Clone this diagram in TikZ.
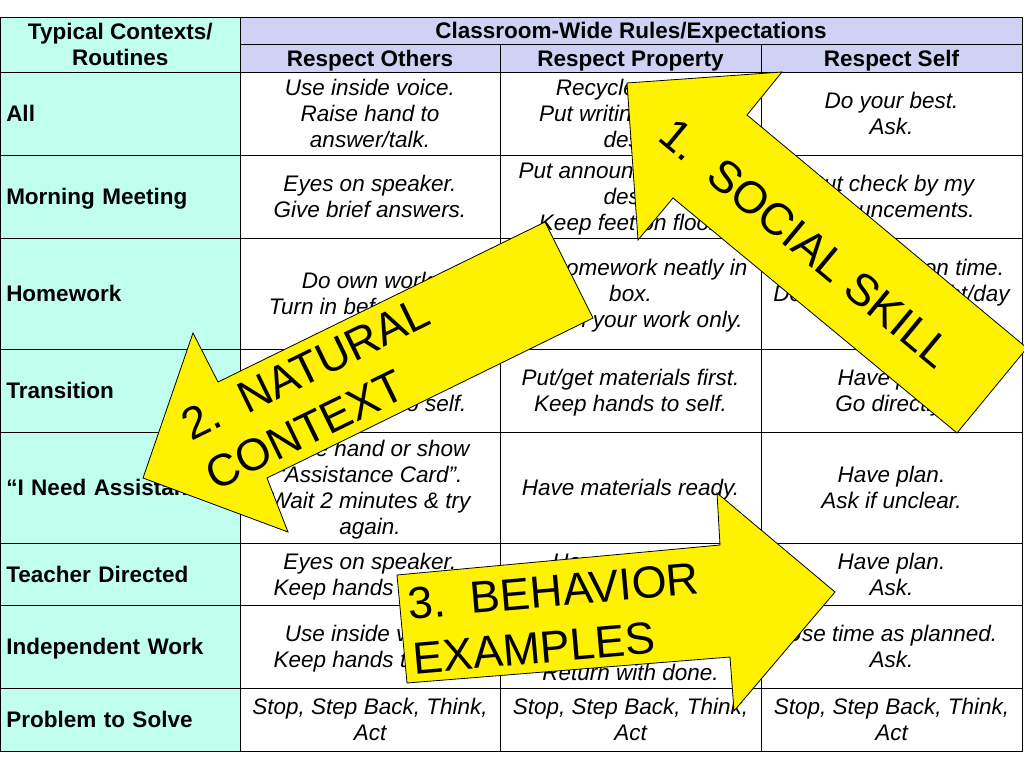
\documentclass[tikz,border=0pt]{standalone}
\usepackage{fontspec}
\setmainfont{Liberation Sans}
\definecolor{ctxcyan}{RGB}{192,255,238}
\definecolor{headlilac}{RGB}{208,210,245}

\begin{document}
\begin{tikzpicture}[x=1pt, y=-1pt,
	cell/.style = {draw=black, line width=0.9pt, inner sep=0pt, text depth=0pt, align=center, font=\fontsize{22.5}{26}\selectfont\itshape},
	rowlabel/.style = {draw=black, line width=0.9pt, inner sep=0pt, text depth=0pt, fill=ctxcyan, text width=228pt, align=left, minimum width=239.5pt, font=\fontsize{22.5}{26}\selectfont\bfseries},
	head/.style = {draw=black, line width=0.9pt, inner sep=0pt, text depth=0pt, fill=headlilac, align=center, font=\fontsize{22.5}{26}\selectfont\bfseries},
	subhead/.style = {head, text height=16.4pt},
	colo/.style = {minimum width=260pt},
	colp/.style = {minimum width=261pt},
	cols/.style = {minimum width=261pt},
	bigarrow/.style = {fill=yellow, draw=black, line width=0.8pt},
	bigtext/.style = {inner sep=0pt, align=left, font=\fontsize{45}{55}\selectfont}]
		\useasboundingbox (0,0) rectangle (1024,768);
		\clip (0,0) rectangle (1024,768);
		\fill[white] (0,0) rectangle (1024,768);

		\node[head, fill=ctxcyan, minimum width=239.5pt, minimum height=55pt] (ctx) at (120.25,44.5) {Typical Contexts/\\Routines};
		\node[subhead, minimum width=782pt, minimum height=27pt] (rules) at (631,30.5) {Classroom-Wide Rules/Expectations};
		\node[subhead, colo, minimum height=28pt] (others) at (370,58) {Respect Others};
		\node[subhead, colp, minimum height=28pt] (property) at (630.5,58) {Respect Property};
		\node[subhead, cols, minimum height=28pt] (self) at (891.5,58) {Respect Self};

		\node[rowlabel, minimum height=83pt] (all) at (120.25,113.5) {All};
		\node[cell, colo, minimum height=83pt] (all-o) at (370,113.5) {Use inside voice.\\Raise hand to\\answer/talk.};
		\node[cell, colp, minimum height=83pt] (all-p) at (630.5,113.5) {Recycle paper.\\Put writing tools in\\desk.};
		\node[cell, cols, minimum height=83pt] (all-s) at (891.5,113.5) {Do your best.\\Ask.};

		\node[rowlabel, minimum height=83pt] (meet) at (120.25,196.5) {Morning Meeting};
		\node[cell, colo, minimum height=83pt] (meet-o) at (370,196.5) {Eyes on speaker.\\Give brief answers.};
		\node[cell, colp, minimum height=83pt] (meet-p) at (630.5,196.5) {Put announcements in\\desk.\\Keep feet on floor.};
		\node[cell, cols, minimum height=83pt] (meet-s) at (891.5,196.5) {Put check by my\\announcements.};

		\node[rowlabel, minimum height=111pt] (home) at (120.25,293.5) {Homework};
		\node[cell, colo, minimum height=111pt] (home-o) at (370,293.5) {Do own work.\\Turn in before class.};
		\node[cell, colp, minimum height=111pt] (home-p) at (630.5,293.5) {Put homework neatly in\\box.\\Turn in your work only.};
		\node[cell, cols, minimum height=111pt] (home-s) at (891.5,293.5) {Do homework on time.\\Do homework night/day\\Ask.};

		\node[rowlabel, minimum height=83pt] (trans) at (120.25,390.5) {Transition};
		\node[cell, colo, minimum height=83pt] (trans-o) at (370,390.5) {Walk quietly.\\Keep hands to self.};
		\node[cell, colp, minimum height=83pt] (trans-p) at (630.5,390.5) {Put/get materials first.\\Keep hands to self.};
		\node[cell, cols, minimum height=83pt] (trans-s) at (891.5,390.5) {Have plan.\\Go directly.};

		\node[rowlabel, minimum height=111pt] (assist) at (120.25,487.5) {“I Need Assistance”};
		\node[cell, colo, minimum height=111pt] (assist-o) at (370,487.5) {Raise hand or show\\“Assistance Card”.\\Wait 2 minutes \& try\\again.};
		\node[cell, colp, minimum height=111pt] (assist-p) at (630.5,487.5) {Have materials ready.};
		\node[cell, cols, minimum height=111pt] (assist-s) at (891.5,487.5) {Have plan.\\Ask if unclear.};

		\node[rowlabel, minimum height=62pt] (teach) at (120.25,574) {Teacher Directed};
		\node[cell, colo, minimum height=62pt] (teach-o) at (370,574) {Eyes on speaker.\\Keep hands to self.};
		\node[cell, colp, minimum height=62pt] (teach-p) at (630.5,574) {Have materials.\\Use carefully.};
		\node[cell, cols, minimum height=62pt] (teach-s) at (891.5,574) {Have plan.\\Ask.};

		\node[rowlabel, minimum height=83pt] (indep) at (120.25,646.5) {Independent Work};
		\node[cell, colo, minimum height=83pt] (indep-o) at (370,646.5) {Use inside voice.\\Keep hands to self.};
		\node[cell, colp, minimum height=83pt] (indep-p) at (630.5,646.5) {Get materials.\\Work quietly.\\Return with done.};
		\node[cell, cols, minimum height=83pt] (indep-s) at (891.5,646.5) {Use time as planned.\\Ask.};

		\node[rowlabel, minimum height=63pt] (solve) at (120.25,719.5) {Problem to Solve};
		\node[cell, colo, minimum height=63pt] (solve-o) at (370,719.5) {Stop, Step Back, Think,\\Act};
		\node[cell, colp, minimum height=63pt] (solve-p) at (630.5,719.5) {Stop, Step Back, Think,\\Act};
		\node[cell, cols, minimum height=63pt] (solve-s) at (891.5,719.5) {Stop, Step Back, Think,\\Act};

		\filldraw[bigarrow] (747,115) -- (782,72) -- (627,83) -- (638,240) -- (673,198) -- (957,433) -- (1027,348) -- cycle;
		\filldraw[bigarrow] (545,222) -- (218,382) -- (193,333) -- (143,478) -- (288,532) -- (267,478) -- (593,318) -- cycle;
		\filldraw[bigarrow] (397,575) -- (720,545) -- (717,493) -- (835,592) -- (734,711) -- (730,657) -- (407,683) -- cycle;

		\node[bigtext, rotate=-39.7] (skill) at (806,243) {1.\ \ SOCIAL SKILL};
		\node[bigtext, rotate=26] (context) at (317.5,393.5) {2.\ \ NATURAL\\CONTEXT};
		\node[bigtext, rotate=5] (behavior) at (556,618.6) {3.\ \ BEHAVIOR\\EXAMPLES};

	\end{tikzpicture}
\end{document}
